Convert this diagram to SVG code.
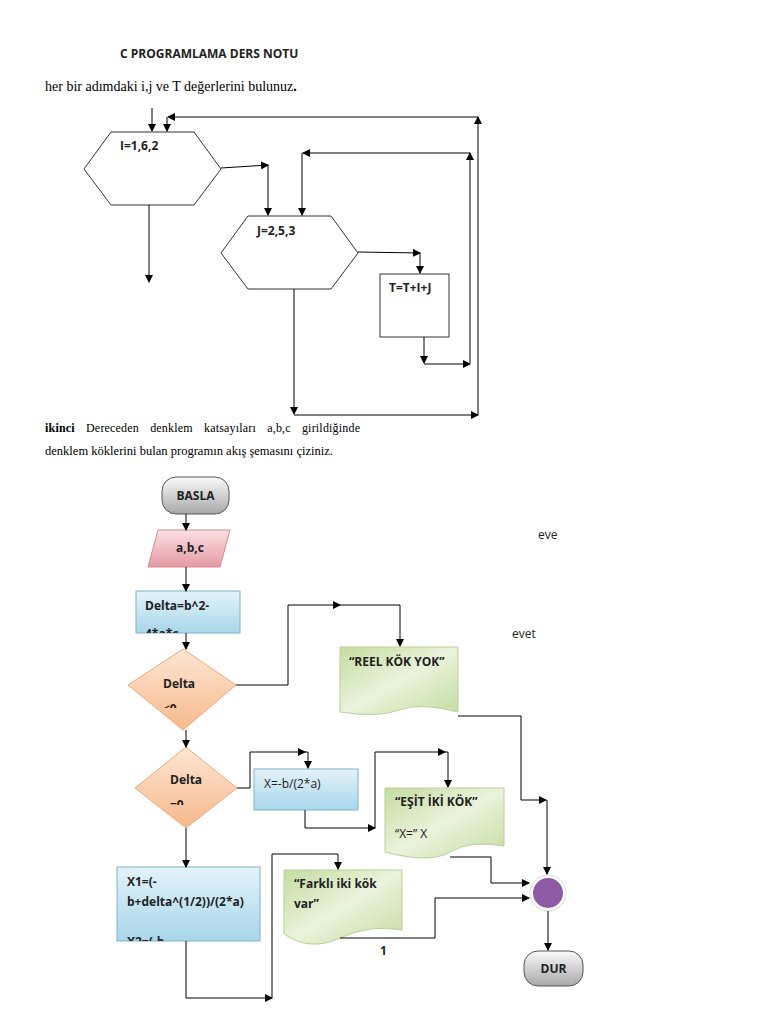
<svg xmlns="http://www.w3.org/2000/svg" width="768" height="1024" viewBox="0 0 768 1024">
<style>
.t{font-family:"Liberation Serif",serif;fill:#000}
.c{font-family:"Open Sans","Liberation Sans",sans-serif;font-weight:bold;fill:#222;font-size:12px}
.n{font-weight:normal}
.ln{fill:none;stroke:#000;stroke-width:1}
.hx{fill:#fff;stroke:#333;stroke-width:1}
.pr{fill:url(#gb);stroke:#7fb3cc;stroke-width:1}
.dc{fill:url(#gg);stroke:#b9cf96;stroke-width:1}
.tm{fill:url(#gt);stroke:#555;stroke-width:1}
</style>
<defs>
<marker id="a" markerWidth="8" markerHeight="8" refX="7" refY="4" orient="auto" markerUnits="userSpaceOnUse"><path d="M0,0L8,4L0,8z" fill="#000"/></marker>
<linearGradient id="gb" x1="0" y1="0" x2="0" y2="1"><stop offset="0" stop-color="#e4f3fa"/><stop offset="1" stop-color="#a8d6ea"/></linearGradient>
<linearGradient id="gg" x1="0" y1="0" x2="1" y2="1"><stop offset="0" stop-color="#c5dca0"/><stop offset="0.5" stop-color="#eaf3dc"/><stop offset="1" stop-color="#c5dca0"/></linearGradient>
<linearGradient id="gt" x1="0" y1="0" x2="0" y2="1"><stop offset="0" stop-color="#fafafa"/><stop offset="1" stop-color="#a8a8a8"/></linearGradient>
<linearGradient id="gp" x1="0" y1="0" x2="0" y2="1"><stop offset="0" stop-color="#fbe0e2"/><stop offset="1" stop-color="#e49aa3"/></linearGradient>
<linearGradient id="go" x1="0" y1="0" x2="0" y2="1"><stop offset="0" stop-color="#fde6d4"/><stop offset="1" stop-color="#f7b98c"/></linearGradient>
<clipPath id="c1"><rect x="136" y="591" width="104" height="42"/></clipPath>
<clipPath id="c2"><rect x="128" y="649" width="108" height="59"/></clipPath>
<clipPath id="c3"><rect x="135" y="747" width="102" height="58"/></clipPath>
<clipPath id="c4"><rect x="117" y="867" width="143" height="74"/></clipPath>
</defs>
<rect width="768" height="1024" fill="#fff"/>
<text class="c" x="120" y="58" font-size="11">C PROGRAMLAMA DERS NOTU</text>
<text class="t" x="45" y="91" font-size="14">her bir adımdaki i,j ve T değerlerini bulunuz<tspan font-weight="bold">.</tspan></text>
<text class="t" x="45" y="432" font-size="12" textLength="315" lengthAdjust="spacing" word-spacing="8"><tspan font-weight="bold">ikinci</tspan> Dereceden denklem katsayıları a,b,c girildiğinde</text>
<text class="t" x="45" y="455" font-size="12" textLength="288" lengthAdjust="spacingAndGlyphs">denklem köklerini bulan programın akış şemasını çiziniz.</text>
<g id="nI"><polygon class="hx" points="84,169 111,132 194,132 221,169 194,205 111,205"/><text class="c" x="120" y="150">I=1,6,2</text></g>
<g id="nJ"><polygon class="hx" points="221,253 248,216 331,216 358,253 331,289 248,289"/><text class="c" x="257" y="235">J=2,5,3</text></g>
<g id="nT"><rect class="hx" x="380" y="274" width="69" height="63"/><text class="c" x="389" y="292">T=T+I+J</text></g>
<g id="nBasla"><rect class="tm" x="162" y="477" width="67" height="37" rx="14"/><text class="c" x="195.5" y="500" text-anchor="middle">BASLA</text></g>
<g id="nInput"><polygon points="158,530 230,530 220,567 148,567" fill="url(#gp)" stroke="#d98a94"/><text class="c" x="190" y="552" text-anchor="middle">a,b,c</text></g>
<g id="nDelta"><rect class="pr" x="136" y="591" width="104" height="42"/><g clip-path="url(#c1)"><text class="c" x="145" y="610">Delta=b^2-</text><text class="c" x="145" y="638">4*a*c</text></g></g>
<g id="nD1"><polygon points="183,649 236,685 183,730 128,685" fill="url(#go)" stroke="#f0a878"/><g clip-path="url(#c2)"><text class="c" x="163" y="688">Delta</text><text class="c" x="163" y="713">&lt;0</text></g></g>
<g id="nD2"><polygon points="186,747 237,788 186,828 135,788" fill="url(#go)" stroke="#f0a878"/><g clip-path="url(#c3)"><text class="c" x="170" y="784">Delta</text><text class="c" x="170" y="809">=0</text></g></g>
<g id="nX"><rect class="pr" x="254" y="769" width="104" height="41"/><text class="c n" x="264" y="788">X=-b/(2*a)</text></g>
<g id="nX1"><rect class="pr" x="117" y="867" width="143" height="74"/><g clip-path="url(#c4)"><text class="c" x="127" y="886">X1=(-</text><text class="c" x="127" y="906">b+delta^(1/2))/(2*a)</text><text class="c" x="127" y="946">X2=(-b</text></g></g>
<g id="nReel"><path class="dc" d="M340,647H458V712Q420,702 399,710T340,712Z"/><text class="c" x="349" y="666">“REEL KÖK YOK”</text></g>
<g id="nEsit"><path class="dc" d="M385,788H504V846Q470,840 450,852T385,852Z"/><text class="c" x="395" y="806">“EŞİT İKİ KÖK”</text><text class="c n" x="395" y="838">“X=” X</text></g>
<g id="nFarkli"><path class="dc" d="M284,870H402V930Q370,924 340,938T284,934Z"/><text class="c" x="294" y="888">“Farklı iki kök</text><text class="c" x="294" y="908">var”</text></g>
<g id="nJoin"><circle cx="548" cy="893" r="18" fill="#fff" stroke="#ddd"/><circle cx="548" cy="893" r="15" fill="#8e5aa6"/></g>
<g id="nDur"><rect class="tm" x="524" y="951" width="59" height="35" rx="14"/><text class="c" x="553.5" y="973" text-anchor="middle">DUR</text></g>
<text class="c n" x="538" y="539">eve</text>
<text class="c n" x="512" y="638">evet</text>
<text class="c" x="380" y="955">1</text>
<g id="connectors">
<path class="ln" d="M152,108V131" marker-end="url(#a)"/>
<path class="ln" d="M478,415V117" marker-end="url(#a)"/>
<path class="ln" d="M478,117H168" marker-end="url(#a)"/>
<path class="ln" d="M167,117V131" marker-end="url(#a)"/>
<path class="ln" d="M221,168L268,165" marker-end="url(#a)"/>
<path class="ln" d="M268,165V215" marker-end="url(#a)"/>
<path class="ln" d="M470,363V153" marker-end="url(#a)"/>
<path class="ln" d="M470,153H303" marker-end="url(#a)"/>
<path class="ln" d="M302,153V215" marker-end="url(#a)"/>
<path class="ln" d="M358,252L420,253" marker-end="url(#a)"/>
<path class="ln" d="M420,253V273" marker-end="url(#a)"/>
<path class="ln" d="M424,337V363" marker-end="url(#a)"/>
<path class="ln" d="M424,364H470" marker-end="url(#a)"/>
<path class="ln" d="M294,289V414" marker-end="url(#a)"/>
<path class="ln" d="M294,415H478" marker-end="url(#a)"/>
<path class="ln" d="M149,205V282" marker-end="url(#a)"/>
<path class="ln" d="M186,514V530" marker-end="url(#a)"/>
<path class="ln" d="M186,567V591" marker-end="url(#a)"/>
<path class="ln" d="M186,633V649" marker-end="url(#a)"/>
<path class="ln" d="M186,730V747" marker-end="url(#a)"/>
<path class="ln" d="M186,828V867" marker-end="url(#a)"/>
<path class="ln" d="M236,685H288V605H340" marker-end="url(#a)"/>
<path class="ln" d="M340,605H400V646" marker-end="url(#a)"/>
<path class="ln" d="M458,716H521V800H546" marker-end="url(#a)"/>
<path class="ln" d="M547,800V874" marker-end="url(#a)"/>
<path class="ln" d="M237,788H250V752H305" marker-end="url(#a)"/>
<path class="ln" d="M305,752H308V768" marker-end="url(#a)"/>
<path class="ln" d="M305,810V828H375" marker-end="url(#a)"/>
<path class="ln" d="M375,828V752H445" marker-end="url(#a)"/>
<path class="ln" d="M445,752H448V787" marker-end="url(#a)"/>
<path class="ln" d="M450,857H491V883H529" marker-end="url(#a)"/>
<path class="ln" d="M340,938H435V898H529" marker-end="url(#a)"/>
<path class="ln" d="M186,941V998H272" marker-end="url(#a)"/>
<path class="ln" d="M272,998V854H338V869" marker-end="url(#a)"/>
<path class="ln" d="M548,911V950" marker-end="url(#a)"/>
</g>
</svg>
